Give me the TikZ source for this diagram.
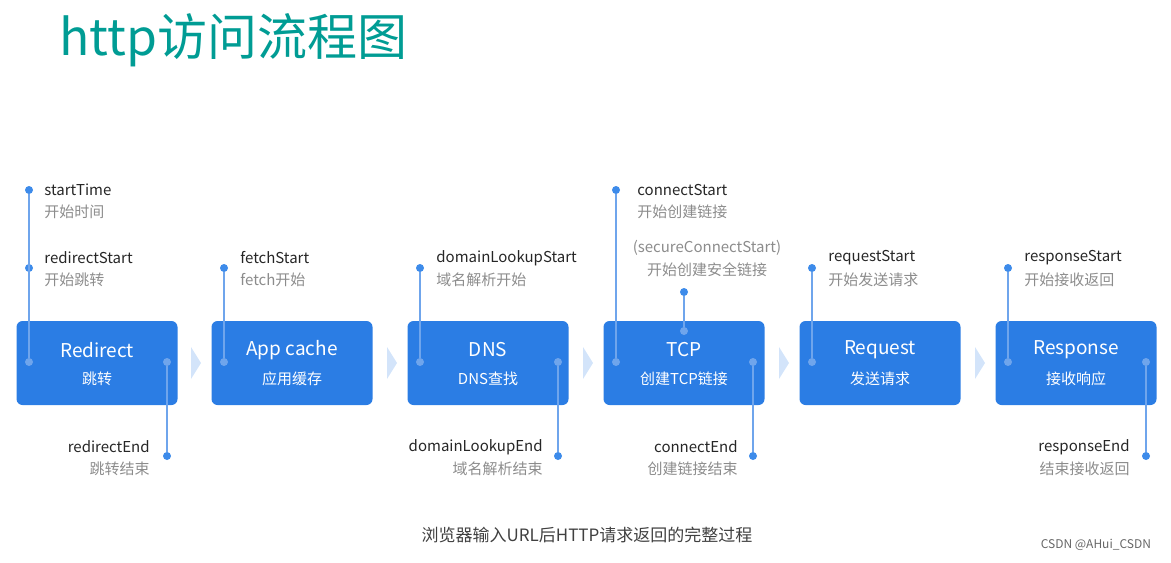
\documentclass[tikz,border=0pt]{standalone}
\usepackage{fontspec}
\setmainfont{Noto Sans CJK SC}
\usetikzlibrary{positioning,shapes.geometric}
\definecolor{boxblue}{HTML}{2B7DE4}
\definecolor{lineblue}{HTML}{6FA5EC}
\definecolor{dotblue}{HTML}{3D8BEA}
\definecolor{teal}{HTML}{009C94}
\definecolor{chev}{HTML}{D3E4FA}

\begin{document}
\begin{tikzpicture}[x=0.5pt,y=-0.5pt,
  step node/.style={rectangle,rounded corners=3pt,fill=boxblue,
    minimum width=80.5pt,minimum height=42pt,text=white},
  dot/.style={circle,fill=dotblue,inner sep=0pt,minimum size=4pt},
  in dot/.style={circle,fill=lineblue,inner sep=0pt,minimum size=4pt},
  tick/.style={lineblue,line width=0.7pt},
  en label/.style={font=\fontsize{7.5}{8}\selectfont,text=black!85,inner sep=0pt},
  cn label/.style={font=\fontsize{7.5}{8}\selectfont,text=black!45,inner sep=0pt}]

  \useasboundingbox (0,0) rectangle (1171,562);

  \node[anchor=west,text=teal,font=\fontsize{25}{26}\selectfont] (Title) at (52,40) {http访问流程图};

  % boxes and chevrons
  \foreach \name/\x/\en/\cn in {Redirect/97/Redirect/跳转, AppCache/292/App cache/应用缓存,
      DNS/488/DNS/DNS查找, TCP/684/TCP/创建TCP链接, Request/880/Request/发送请求,
      Response/1076/Response/接收响应} {
    \node[step node] (\name) at (\x,363) {};
    \node[text=white,font=\fontsize{9.5}{10}\selectfont] at (\x,350) {\en};
    \node[text=white,font=\fontsize{7.5}{8}\selectfont] at (\x,379) {\cn};
  }
  \foreach \x in {195,391,587,783,979}
    \fill[chev] (\x-4,347) -- (\x+6,363) -- (\x-4,379) -- cycle;

  % timing dots
  \node[dot] (StartTime) at (29,190) {};
  \node[dot] (RedirStart) at (29,268) {};
  \node[in dot] (RedirIn) at (29,362) {};
  \node[in dot] (RedirOut) at (167,362) {};
  \node[dot] (RedirEnd) at (167,456) {};
  \node[dot] (FetchStart) at (224,268) {};
  \node[in dot] (FetchIn) at (224,362) {};
  \node[dot] (LookupStart) at (420,268) {};
  \node[in dot] (LookupIn) at (420,362) {};
  \node[in dot] (LookupOut) at (558,362) {};
  \node[dot] (LookupEnd) at (558,456) {};
  \node[dot] (ConnStart) at (616,190) {};
  \node[in dot] (ConnIn) at (616,362) {};
  \node[dot] (SecStart) at (684,292) {};
  \node[in dot] (SecIn) at (684,331) {};
  \node[in dot] (ConnOut) at (753,362) {};
  \node[dot] (ConnEnd) at (753,456) {};
  \node[dot] (ReqStart) at (812,268) {};
  \node[in dot] (ReqIn) at (812,362) {};
  \node[dot] (RespStart) at (1008,268) {};
  \node[in dot] (RespIn) at (1008,362) {};
  \node[in dot] (RespOut) at (1146,362) {};
  \node[dot] (RespEnd) at (1146,456) {};

  \path[tick]
    (StartTime) edge (RedirIn)
    (RedirOut) edge (RedirEnd)
    (FetchStart) edge (FetchIn)
    (LookupStart) edge (LookupIn)
    (LookupOut) edge (LookupEnd)
    (ConnStart) edge (ConnIn)
    (SecStart) edge (SecIn)
    (ConnOut) edge (ConnEnd)
    (ReqStart) edge (ReqIn)
    (RespStart) edge (RespIn)
    (RespOut) edge (RespEnd);

  % labels
  \foreach \x/\y/\en/\cn in {44/190/startTime/开始时间, 44/258/redirectStart/开始跳转,
      240/258/fetchStart/fetch开始, 436/258/domainLookupStart/域名解析开始,
      637/190/connectStart/开始创建链接, 828/258/requestStart/开始发送请求,
      1024/258/responseStart/开始接收返回} {
    \node[en label,anchor=west] at (\x,\y) {\en};
    \node[cn label,anchor=west] at (\x,\y+22) {\cn};
  }
  \foreach \x/\en/\cn in {150/redirectEnd/跳转结束, 543/domainLookupEnd/域名解析结束,
      738/connectEnd/创建链接结束, 1130/responseEnd/结束接收返回} {
    \node[en label,anchor=east] at (\x,447) {\en};
    \node[cn label,anchor=east] at (\x,469) {\cn};
  }
  \node[cn label] (SecLabel) at (707,248) {(secureConnectStart)};
  \node[cn label] at (707,270) {开始创建安全链接};

  \node[font=\fontsize{8.5}{9}\selectfont,text=black!75] (Caption) at (587,535) {浏览器输入URL后HTTP请求返回的完整过程};
  \node[anchor=east,font=\fontsize{6}{7}\selectfont,text=black!60] (Mark) at (1158,545) {CSDN @AHui\_CSDN};
\end{tikzpicture}
\end{document}
